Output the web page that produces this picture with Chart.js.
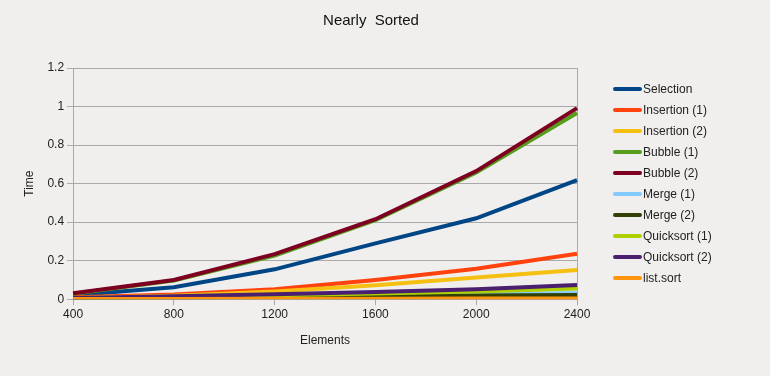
<!DOCTYPE html>
<html>
<head>
<meta charset="utf-8">
<script src="https://cdn.jsdelivr.net/npm/chart.js@4/dist/chart.umd.min.js"></script>
<style>
  html, body { margin: 0; padding: 0; background: #f0efed; }
  #wrap { position: relative; width: 770px; height: 376px; font-family: "Liberation Sans", Arial, sans-serif; }
  #chart { position: absolute; left: 0; top: 0; }
  #title { position: absolute; left: 0; width: 742px; top: 11px; text-align: center; font-size: 15px; color: #111; white-space: pre; }
  #legend { position: absolute; left: 613px; top: 78px; font-size: 12px; color: #222; }
  #legend .item { height: 21px; display: flex; align-items: center; }
  #legend .line { width: 29px; height: 4px; border-radius: 2px; margin-right: 1px; }
</style>
</head>
<body>
<div id="wrap">
  <canvas id="chart" width="770" height="376"></canvas>
  <div id="title">Nearly  Sorted</div>
  <div id="legend"></div>
</div>
<script>
// data
const elements = ["400", "800", "1200", "1600", "2000", "2400"];

const selection   = [0.020, 0.062, 0.155, 0.290, 0.420, 0.618];
const insertion1  = [0.010, 0.025, 0.052, 0.100, 0.158, 0.236];
const insertion2  = [0.006, 0.018, 0.040, 0.073, 0.113, 0.152];
const bubble1     = [0.028, 0.097, 0.226, 0.410, 0.658, 0.966];
const bubble2     = [0.031, 0.100, 0.234, 0.415, 0.665, 0.992];
const merge1      = [0.004, 0.008, 0.012, 0.018, 0.024, 0.032];
const merge2      = [0.004, 0.008, 0.012, 0.015, 0.019, 0.022];
const quicksort1  = [0.005, 0.012, 0.020, 0.030, 0.040, 0.055];
const quicksort2  = [0.006, 0.015, 0.026, 0.037, 0.052, 0.074];
const listSort    = [0.001, 0.001, 0.002, 0.002, 0.003, 0.004];

const series = [
    { label: "Selection", data: selection, color: "#004586" },
    { label: "Insertion (1)", data: insertion1, color: "#ff420e" },
    { label: "Insertion (2)", data: insertion2, color: "#f5c011" },
    { label: "Bubble (1)", data: bubble1, color: "#579d1c" },
    { label: "Bubble (2)", data: bubble2, color: "#7e0021" },
    { label: "Merge (1)", data: merge1, color: "#83caff" },
    { label: "Merge (2)", data: merge2, color: "#314004" },
    { label: "Quicksort (1)", data: quicksort1, color: "#aecf00" },
    { label: "Quicksort (2)", data: quicksort2, color: "#4b1f6f" },
    { label: "list.sort", data: listSort, color: "#ff950e" },
];

const gridGray = "#a9a9a9";
const font = { family: "'Liberation Sans', Arial, sans-serif", size: 12 };

const datasets = series.map((s, i) => ({
    label: s.label,
    data: s.data,
    borderColor: s.color,
    backgroundColor: s.color,
    borderWidth: 4,
    pointRadius: 0,
    tension: 0,
    order: series.length - i, // later series on top, like the original
}));

new Chart(document.getElementById("chart"), {
    type: "line",
    data: { labels: elements, datasets },
    options: {
        responsive: false,
        animation: false,
        layout: { padding: { left: 22, right: 193, top: 68, bottom: 28 } },
        plugins: {
            legend: { display: false },
            title: { display: false },
            tooltip: { enabled: false },
        },
        scales: {
            x: {
                offset: false,
                grid: {
                    // only the right border line inside the plot
                    color: (ctx) => (ctx.index === elements.length - 1 ? gridGray : "transparent"),
                    tickColor: gridGray,
                    tickLength: 6,
                },
                border: { color: gridGray },
                ticks: { color: "#222", font, padding: 2, maxRotation: 0 },
                title: { display: true, text: "Elements", color: "#222", font, padding: { top: 10, bottom: 0 } },
            },
            y: {
                min: 0,
                max: 1.2,
                ticks: {
                    stepSize: 0.2,
                    color: "#222",
                    font,
                    padding: 3,
                    callback: (v) => String(Number(v.toFixed(1))), // 1.2, 1, 0.8 ...
                },
                grid: { color: gridGray, tickColor: gridGray, tickLength: 6 },
                border: { color: gridGray },
                title: { display: true, text: "Time", color: "#222", font, padding: { top: 0, bottom: 8 } },
            },
        },
    },
});

// legend, same order as the series
const legend = document.getElementById("legend");
series.forEach((s) => {
    const item = document.createElement("div");
    item.className = "item";
    const line = document.createElement("span");
    line.className = "line";
    line.style.background = s.color;
    const text = document.createElement("span");
    text.textContent = s.label;
    item.appendChild(line);
    item.appendChild(text);
    legend.appendChild(item);
});
</script>
</body>
</html>
